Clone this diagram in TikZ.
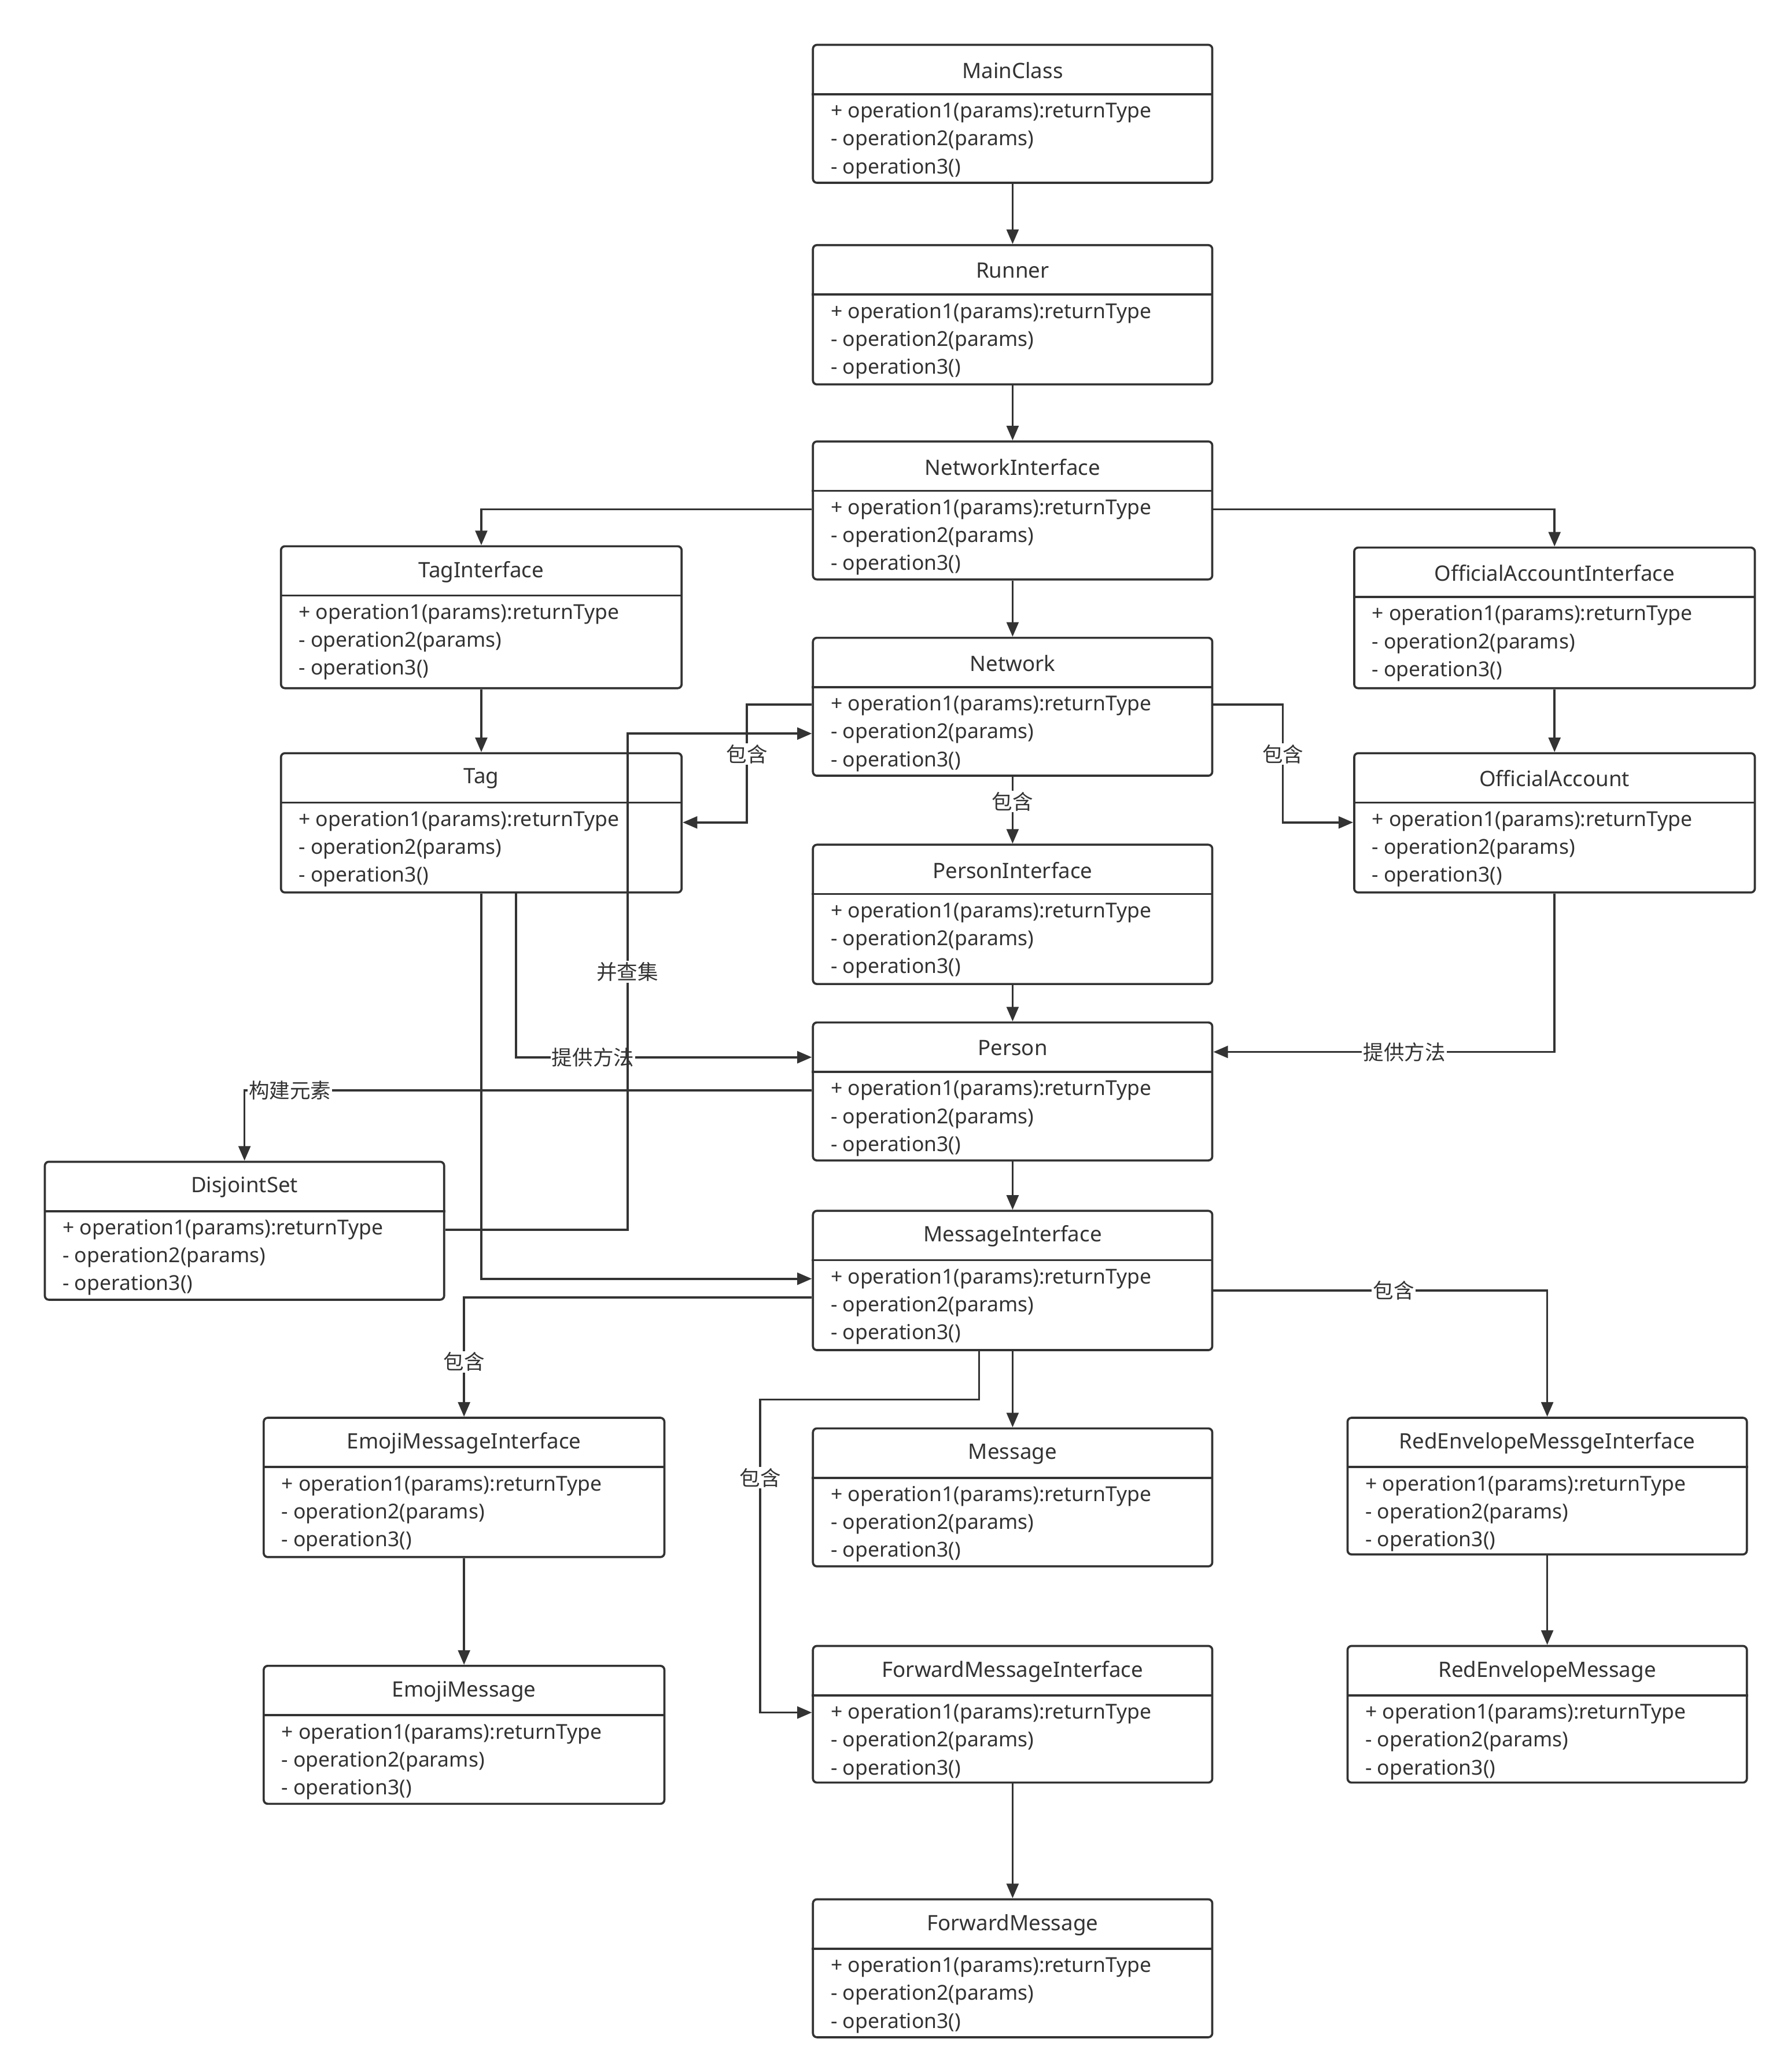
\documentclass[tikz,border=0pt]{standalone}
\usepackage{fontspec}
\setmainfont{Noto Sans}
\newfontfamily\cjk{Noto Sans CJK SC}
\usetikzlibrary{arrows.meta,calc}
\definecolor{ln}{HTML}{333333}
\tikzset{
  cls/.style={draw=ln,line width=1.6pt,rounded corners=3pt,anchor=north west,inner sep=0pt},
  ttl/.style={font=\fontsize{16}{18}\selectfont\bfseries,text=ln},
  mth/.style={font=\fontsize{15.5}{18}\selectfont,text=ln,anchor=west,inner sep=0pt},
  con/.style={draw=ln,line width=1.6pt,-{Triangle[length=11pt,width=9pt]}},
  lbl/.style={font=\cjk\fontsize{15.5}{18}\selectfont,text=ln,fill=white,inner sep=1pt}
}
\newcommand\umlcls[6]{%
  \node[cls,minimum width={(#4-#2)*1pt},minimum height={(#5-#3)*1pt}] (#1) at (#2,#3) {};
  \draw[ln,line width=1.6pt] ([yshift=-38pt]#1.north west) -- ([yshift=-38pt]#1.north east);
  \node[ttl] (#1-t) at ([yshift=-20pt]#1.north) {#6};
  \node[mth] (#1-a) at ([xshift=14pt,yshift=-52pt]#1.north west) {+ operation1(params):returnType};
  \node[mth] (#1-b) at ([xshift=14pt,yshift=-73pt]#1.north west) {- operation2(params)};
  \node[mth] (#1-c) at ([xshift=14pt,yshift=-94pt]#1.north west) {- operation3()};
}
\begin{document}
\begin{tikzpicture}[x=1pt,y=-1pt]
\useasboundingbox[fill=white] (0,0) rectangle (1350,1562);
\umlcls{main}{612}{33}{913}{137}{MainClass}
\umlcls{run}{612}{184}{913}{289}{Runner}
\umlcls{ni}{612}{332}{913}{436}{NetworkInterface}
\umlcls{ti}{211}{411}{513}{518}{TagInterface}
\umlcls{oai}{1020}{412}{1322}{518}{OfficialAccountInterface}
\umlcls{net}{612}{480}{913}{584}{Network}
\umlcls{tag}{211}{567}{513}{672}{Tag}
\umlcls{oa}{1020}{567}{1322}{672}{OfficialAccount}
\umlcls{pi}{612}{636}{913}{741}{PersonInterface}
\umlcls{per}{612}{770}{913}{874}{Person}
\umlcls{ds}{33}{875}{334}{979}{DisjointSet}
\umlcls{mi}{612}{912}{913}{1017}{MessageInterface}
\umlcls{emi}{198}{1068}{500}{1173}{EmojiMessageInterface}
\umlcls{msg}{612}{1076}{913}{1180}{Message}
\umlcls{rei}{1015}{1068}{1316}{1171}{RedEnvelopeMessgeInterface}
\umlcls{em}{198}{1255}{500}{1359}{EmojiMessage}
\umlcls{fmi}{612}{1240}{913}{1343}{ForwardMessageInterface}
\umlcls{rem}{1015}{1240}{1316}{1343}{RedEnvelopeMessage}
\umlcls{fm}{612}{1431}{913}{1535}{ForwardMessage}

\draw[con] (main.south) -- (run.north);
\draw[con] (run.south) -- (ni.north);
\draw[con] (ni.west |- 0,384) -| (ti.north);
\draw[con] (ni.east |- 0,384) -| (oai.north);
\draw[con] (ni.south) -- (net.north);
\draw[con] (ti.south) -- (tag.north);
\draw[con] (oai.south) -- (oa.north);
\draw[con] (net.west |- 0,531) -- (563,531) -- node[lbl,pos=0.42]{包含} (563,620) -- (tag.east |- 0,620);
\draw[con] (net.east |- 0,531) -- (967,531) -- node[lbl,pos=0.42]{包含} (967,620) -- (oa.west |- 0,620);
\draw[con] (net.south) -- node[lbl,pos=0.37]{包含} (pi.north);
\draw[con] (pi.south) -- (per.north);
\draw[con] (oa.south) |- node[lbl,pos=0.72]{提供方法} (per.east |- 0,793);
\draw[con] (389,672) |- node[lbl,pos=0.63]{提供方法} (per.west |- 0,797);
\draw[con] (per.west |- 0,822) -| node[lbl,pos=0.46]{构建元素} (ds.north);
\draw[con] (ds.east |- 0,927) -- (473,927) -- node[lbl,pos=0.52]{并查集} (473,553) -- (net.west |- 0,553);
\draw[con] (tag.south) |- (mi.west |- 0,964);
\draw[con] (per.south) -- (mi.north);
\draw[con] (mi.west |- 0,978) -| node[lbl,pos=0.77]{包含} (emi.north);
\draw[con] (mi.east |- 0,973) -| node[lbl,pos=0.27]{包含} (rei.north);
\draw[con] (mi.south) -- (msg.north);
\draw[con] (738,1017) -- (738,1055) -- (573,1055) -- node[lbl,pos=0.25]{包含} (573,1291) -- (fmi.west |- 0,1291);
\draw[con] (emi.south) -- (em.north);
\draw[con] (rei.south) -- (rem.north);
\draw[con] (fmi.south) -- (fm.north);
\end{tikzpicture}
\end{document}
